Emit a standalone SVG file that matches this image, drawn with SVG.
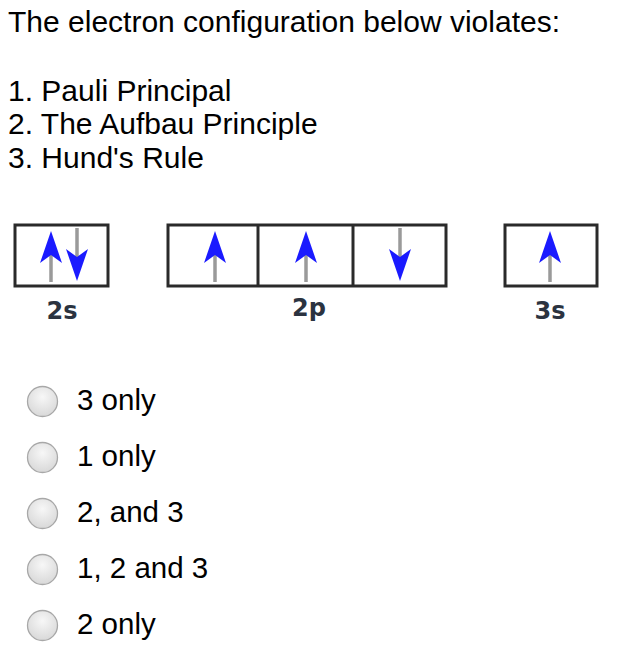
<svg xmlns="http://www.w3.org/2000/svg" width="628" height="672" viewBox="0 0 628 672">
<defs>
<style>
.t{font-family:"Liberation Sans",Arial,sans-serif;font-size:30px;fill:#000}
.o{font-family:"Liberation Sans",Arial,sans-serif;font-size:29.5px;fill:#000}
.box{fill:#fff;stroke:#2a2a2a;stroke-width:3}
.div{stroke:#2a2a2a;stroke-width:3}
.lbl{font-family:"DejaVu Sans",sans-serif;font-size:24px;font-weight:bold;fill:#2b3340;text-anchor:middle}
.stem{stroke:#9a9a9a;stroke-width:3.5}
.head{fill:#1a1aff}
.radio{fill:url(#rg);stroke:#a8a8a8;stroke-width:1.3}
</style>
<radialGradient id="rg" cx="0.5" cy="0.35" r="0.7">
<stop offset="0" stop-color="#f7f7f7"/>
<stop offset="1" stop-color="#d6d6d6"/>
</radialGradient>
<g id="up"><line class="stem" x1="0" y1="282" x2="0" y2="252"/><polygon class="head" points="0,231 -11,263 0,255 11,263"/></g>
<g id="down"><line class="stem" x1="0" y1="228" x2="0" y2="258"/><polygon class="head" points="0,281 -11,249 0,257 11,249"/></g>
</defs>
<rect width="628" height="672" fill="#fff"/>
<g id="question">
<text class="t" x="8" y="32">The electron configuration below violates:</text>
<text class="t" x="8" y="101">1. Pauli Principal</text>
<text class="t" x="8" y="134">2. The Aufbau Principle</text>
<text class="t" x="8" y="168">3. Hund's Rule</text>
</g>
<g id="orb2s">
<rect class="box" x="15" y="225" width="93" height="61"/>
<use href="#up" x="51"/>
<use href="#down" x="77"/>
<text class="lbl" x="62" y="319">2s</text>
</g>
<g id="orb2p">
<rect class="box" x="168" y="225" width="278" height="61"/>
<line class="div" x1="258" y1="225" x2="258" y2="286"/>
<line class="div" x1="353" y1="225" x2="353" y2="286"/>
<use href="#up" x="215"/>
<use href="#up" x="306"/>
<use href="#down" x="400"/>
<text class="lbl" x="309" y="316">2p</text>
</g>
<g id="orb3s">
<rect class="box" x="505" y="225" width="92" height="61"/>
<use href="#up" x="550"/>
<text class="lbl" x="550" y="319">3s</text>
</g>
<g id="options">
<circle class="radio" cx="42.5" cy="401.5" r="15"/><text class="o" x="77" y="410">3 only</text>
<circle class="radio" cx="42.5" cy="457.5" r="15"/><text class="o" x="77" y="466">1 only</text>
<circle class="radio" cx="42.5" cy="513.5" r="15"/><text class="o" x="77" y="522">2, and 3</text>
<circle class="radio" cx="42.5" cy="569.5" r="15"/><text class="o" x="77" y="578">1, 2 and 3</text>
<circle class="radio" cx="42.5" cy="625.5" r="15"/><text class="o" x="77" y="634">2 only</text>
</g>
</svg>
